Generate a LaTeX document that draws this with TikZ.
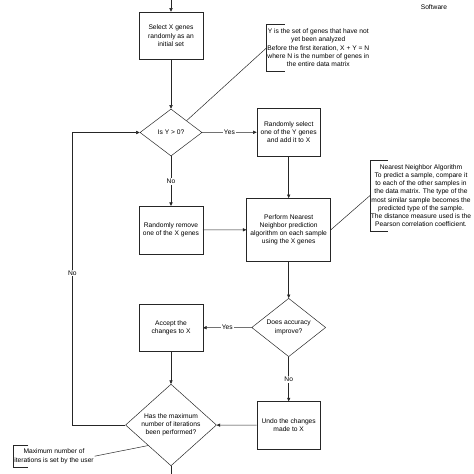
\documentclass[tikz,border=0pt]{standalone}
\usepackage{fontspec}
\setmainfont{Liberation Sans}
\usetikzlibrary{shapes.geometric,arrows.meta}

\tikzset{
  box/.style={draw=black!85, line width=0.7pt, rectangle, align=center,
    minimum width=3.175cm, minimum height=2.375cm, inner sep=1pt},
  decision/.style={draw=black!85, line width=0.7pt, diamond, align=center,
    inner sep=0pt},
  note/.style={align=center, inner xsep=1pt, inner ysep=0pt},
  flow/.style={draw=black!85, line width=0.7pt},
  lbl/.style={fill=white, inner sep=1.5pt},
}

\begin{document}
\begin{tikzpicture}[x=0.05cm, y=-0.05cm,
  font=\fontsize{9.5}{11.7}\selectfont,
  >={Triangle[length=5pt,width=4.5pt]}]
  \useasboundingbox (0,0) rectangle (474,474);

  % main flow
  \coordinate (start) at (171,0);
  \node[box] (select) at (171,35.7) {Select X genes\\randomly as an\\initial set};
  \node[decision, minimum width=3.1cm, minimum height=2.35cm] (ypos) at (171,132.5) {Is Y {>} 0?};
  \node[box] (addy) at (288.7,132.2) {Randomly select\\one of the Y genes\\and add it to X};
  \node[box] (remx) at (171,230) {Randomly remove\\one of the X genes};
  \node[box, minimum width=4.2cm, minimum height=3.135cm] (knn) at (288.7,229.7)
    {Perform Nearest\\Neighbor prediction\\algorithm on each sample\\using the X genes};
  \node[decision, minimum width=3.7cm, minimum height=2.75cm] (better) at (288.7,327.5) {Does accuracy\\improve?};
  \node[box] (accept) at (171,327.8) {Accept the\\changes to X};
  \node[box] (undo) at (288.7,425.3) {Undo the changes\\made to X};
  \node[decision, minimum width=4.55cm, minimum height=3.35cm] (maxit) at (171,425)
    {Has the maximum\\number of iterations\\been performed?};
  \coordinate (loop) at (72.3,132.5);
  \coordinate (finish) at (171,474);

  % side notes
  \node[note, minimum height=2.3cm] (ynote) at (318.3,47.8)
    {Y is the set of genes that have not\\yet been analyzed\\Before the first iteration, X + Y = N\\where N is the number of genes in\\the entire data matrix};
  \node[note, minimum height=3.55cm] (knnnote) at (421,195.5)
    {Nearest Neighbor Algorithm\\To predict a sample, compare it\\to each of the other samples in\\the data matrix. The type of the\\most similar sample becomes the\\predicted type of the sample.\\The distance measure used is the\\Pearson correlation coefficient.};
  \node[note, minimum height=1.05cm] (itnote) at (54,456.2)
    {Maximum number of\\iterations is set by the user};
  \node (soft) at (434,6.7) {Software};

  % brackets
  \draw[flow] (ynote.north west) ++(18,0) -- (ynote.north west) -- (ynote.south west) -- ++(18,0);
  \draw[flow] (knnnote.north west) ++(18,0) -- (knnnote.north west) -- (knnnote.south west) -- ++(18,0);
  \draw[flow] (itnote.north west) ++(15,0) -- (itnote.north west) -- (itnote.south west) -- ++(15,0);

  % connectors
  \draw[flow, ->] (start) -- (select);
  \draw[flow, ->] (select) -- (ypos);
  \draw[flow, ->] (ypos) -- node[lbl] {Yes} (addy);
  \draw[flow, ->] (ypos) -- node[lbl] {No} (remx);
  \draw[flow, ->] (addy) -- (knn);
  \draw[flow, ->] (remx) -- (knn);
  \draw[flow, ->] (knn) -- (better);
  \draw[flow, ->] (better) -- node[lbl] {Yes} (accept);
  \draw[flow, ->] (better) -- node[lbl] {No} (undo);
  \draw[flow, ->] (accept) -- (maxit);
  \draw[flow, ->] (undo) -- (maxit);
  \draw[flow, ->] (maxit.west) -| node[lbl, pos=0.76] {No} (loop) -- (ypos.west);
  \draw[flow] (maxit) -- (finish);

  % note leaders
  \draw[flow] (ypos.north east) -- (ynote.west);
  \draw[flow] (knn.east) -- (knnnote.west);
  \draw[flow] (itnote.east) -- (maxit.south west);
\end{tikzpicture}
\end{document}
